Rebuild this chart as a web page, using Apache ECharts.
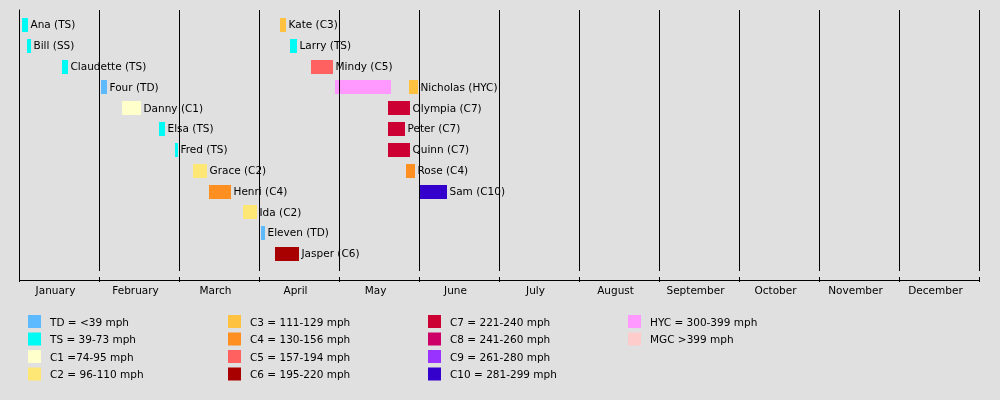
<!DOCTYPE html>
<html>
<head>
<meta charset="utf-8">
<script src="https://cdn.jsdelivr.net/npm/echarts@6/dist/echarts.min.js"></script>
<style>
html,body{margin:0;padding:0;background:#e0e0e0;}
#chart{width:1000px;height:400px;}
</style>
</head>
<body>
<div id="chart"></div>
<script>
// Timeline axis: days on a 360-day scale (30 days per month column)
const months = ['January','February','March','April','May','June','July','August','September','October','November','December'];

// Storms (one entry per bar segment)
const stormLabels = ['Ana (TS)','Bill (SS)','Claudette (TS)','Four (TD)','Danny (C1)','Elsa (TS)','Fred (TS)','Grace (C2)','Henri (C4)','Ida (C2)','Eleven (TD)','Jasper (C6)',
  'Kate (C3)','Larry (TS)','Mindy (C5)','','Nicholas (HYC)','Olympia (C7)','Peter (C7)','Quinn (C7)','Rose (C4)','Sam (C10)'];
const stormCats = ['TS','TS','TS','TD','C1','TS','TS','C2','C4','C2','TD','C6',
  'C3','TS','C5','HYC','C3','C7','C7','C7','C4','C10'];
const stormStart = [0.94,2.81,15.94,30.56,38.44,52.31,58.31,65.06,71.06,83.81,90.56,95.81,
  97.69,101.44,109.31,118.31,146.06,138.19,138.19,138.19,144.94,149.81];
const stormEnd = [3.19,4.31,18.19,32.81,45.56,54.56,59.44,70.31,79.31,89.06,92.06,104.81,
  99.94,104.06,117.56,139.31,149.44,146.44,144.56,146.44,148.31,160.31];
const stormRow = [0,1,2,3,4,5,6,7,8,9,10,11,
  0,1,2,3,3,4,5,6,7,8];

// Legend categories
const catKeys = ['TD','TS','C1','C2','C3','C4','C5','C6','C7','C8','C9','C10','HYC','MGC'];
const catLegend = ['TD = <39 mph','TS = 39-73 mph','C1 =74-95 mph','C2 = 96-110 mph',
  'C3 = 111-129 mph','C4 = 130-156 mph','C5 = 157-194 mph','C6 = 195-220 mph',
  'C7 = 221-240 mph','C8 = 241-260 mph','C9 = 261-280 mph','C10 = 281-299 mph',
  'HYC = 300-399 mph','MGC >399 mph'];
const catColors = ['#5ebaff','#00faf4','#ffffcc','#ffe775','#ffc140','#ff8f20','#ff6060','#a80000',
  '#cc0033','#cc0066','#9933ff','#3300cc','#ff99ff','#ffcccc'];

const FONT = 'DejaVu Sans';
const FS = 10.5;

function makeRenderItem(labels) {
  return function (params, api) {
    const s = api.coord([api.value(0), api.value(2)]);
    const e = api.coord([api.value(1), api.value(2)]);
    const x0 = Math.round(s[0]);
    const x1 = Math.round(e[0]);
    const yc = s[1];
    const children = [{
      type: 'rect',
      shape: { x: x0, y: Math.round(yc - 7), width: Math.max(1, x1 - x0), height: 14 },
      style: { fill: api.visual('color') }
    }];
    const lbl = labels[params.dataIndex];
    if (lbl) {
      children.push({
        type: 'text',
        style: { text: lbl, x: x1 + 2.5, y: yc + 0.5, verticalAlign: 'middle', align: 'left',
          fill: '#000', fontSize: FS, fontFamily: FONT }
      });
    }
    return { type: 'group', children };
  };
}

const series = catKeys.map((k, ci) => {
  const data = [];
  const labels = [];
  stormCats.forEach((c, i) => {
    if (c === k) {
      data.push([stormStart[i], stormEnd[i], stormRow[i]]);
      labels.push(stormLabels[i]);
    }
  });
  return {
    name: catLegend[ci],
    type: 'custom',
    xAxisIndex: 1,
    yAxisIndex: 1,
    renderItem: makeRenderItem(labels),
    itemStyle: { color: catColors[ci] },
    encode: { x: [0, 1], y: 2 },
    data
  };
});

const legendCols = [catLegend.slice(0,4), catLegend.slice(4,8), catLegend.slice(8,12), catLegend.slice(12)];

const rowsCat = Array.from({length: 12}, (_, i) => String(i));

const option = {
  backgroundColor: '#e0e0e0',
  animation: false,
  textStyle: { fontFamily: FONT },
  grid: [
    { left: 19.5, width: 960, top: 10, height: 261 },
    { left: 19.5, width: 960, top: 14.6, height: 249.8 },
    { left: 19.5, width: 960, top: 10, height: 270 }
  ],
  xAxis: [
    { gridIndex: 0, type: 'value', min: 0, max: 360, interval: 30, z: 5,
      axisLine: { show: false }, axisTick: { show: false }, axisLabel: { show: false },
      splitLine: { show: true, lineStyle: { color: '#000', width: 1 } } },
    { gridIndex: 1, type: 'value', min: 0, max: 360, show: false },
    { gridIndex: 2, type: 'value', min: 0, max: 360, interval: 30, position: 'bottom',
      axisLine: { show: true, lineStyle: { color: '#000', width: 1 } },
      axisTick: { show: true, inside: true, length: 3, lineStyle: { color: '#000' } },
      axisLabel: { show: false }, splitLine: { show: false } },
    { gridIndex: 2, type: 'value', min: 0, max: 360, interval: 30, position: 'bottom',
      axisLine: { show: false },
      axisTick: { show: true, inside: false, length: 2, lineStyle: { color: '#000' } },
      axisLabel: { show: false }, splitLine: { show: false } },
    { gridIndex: 2, type: 'category', data: months, position: 'bottom', boundaryGap: true,
      axisLine: { show: false }, axisTick: { show: false }, splitLine: { show: false },
      axisLabel: { show: true, interval: 0, margin: 5.5, color: '#000', fontSize: FS, fontFamily: FONT,
        padding: [0, 8, 0, 0] } }
  ],
  yAxis: [
    { gridIndex: 0, type: 'value', show: false },
    { gridIndex: 1, type: 'category', data: rowsCat, inverse: true, show: false },
    { gridIndex: 2, type: 'value', axisLine: { show: true, lineStyle: { color: '#000' } },
      axisTick: { show: false }, axisLabel: { show: false }, splitLine: { show: false } }
  ],
  legend: legendCols.map((names, i) => ({
    data: names,
    orient: 'vertical',
    left: 28 + 200 * i,
    top: 315,
    padding: 0,
    itemWidth: 13,
    itemHeight: 13,
    itemGap: 4,
    icon: 'rect',
    selectedMode: false,
    formatter: '{t|{name}}',
    textStyle: { fontSize: FS, color: '#000', fontFamily: FONT,
      rich: { t: { fontSize: FS, color: '#000', fontFamily: FONT, padding: [3, 0, 0, 4] } } }
  })),
  series
};

const chart = echarts.init(document.getElementById('chart'), null, { renderer: 'canvas' });
chart.setOption(option);
</script>
</body>
</html>
